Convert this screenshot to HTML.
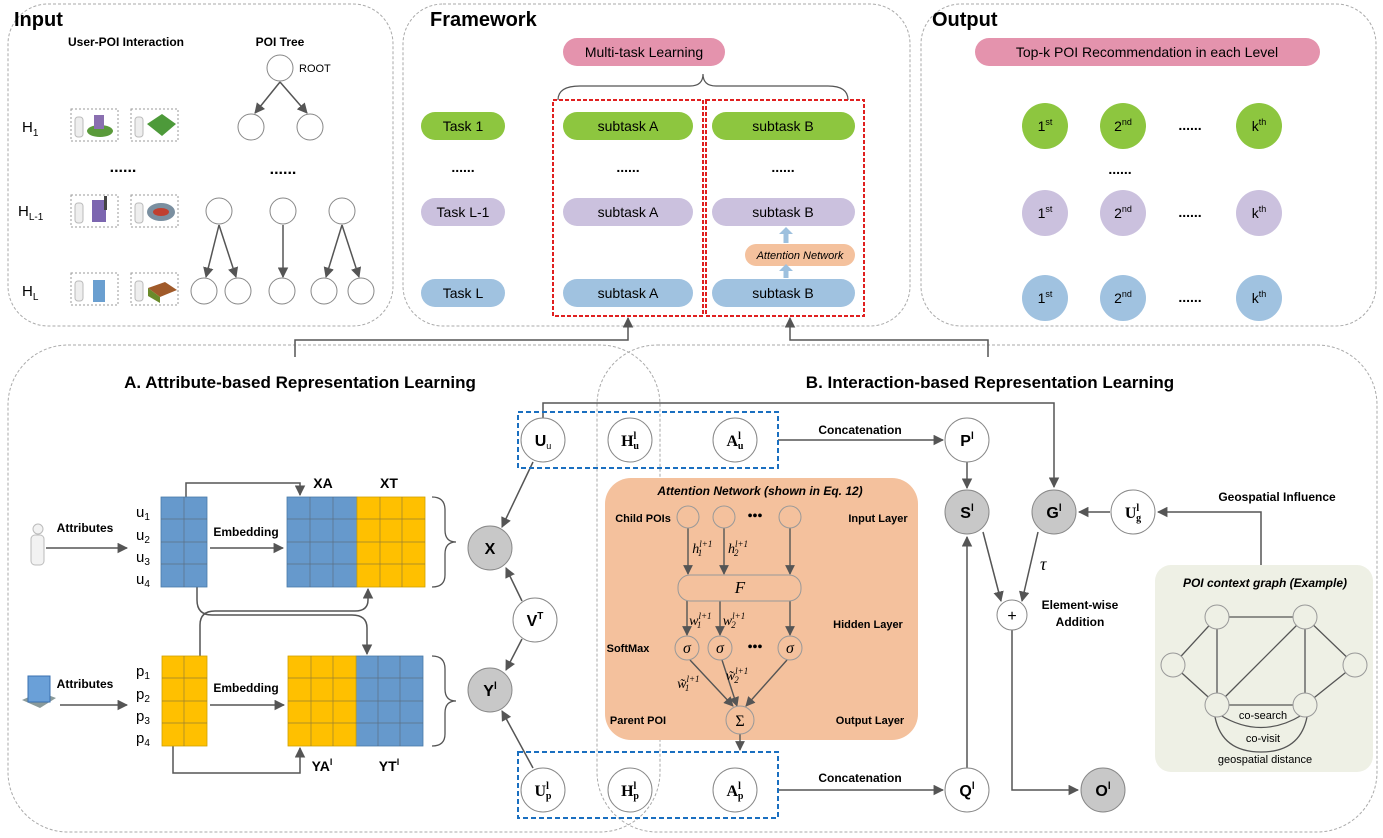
<!DOCTYPE html>
<html><head><meta charset="utf-8"><style>
body{margin:0;background:#fff}
svg{display:block;font-family:"Liberation Sans",sans-serif}
.b{font-weight:bold}
</style></head><body>
<svg width="1383" height="838" viewBox="0 0 1383 838" xmlns="http://www.w3.org/2000/svg">
<defs>
<marker id="ar" viewBox="0 0 10 10" refX="9" refY="5" markerWidth="7" markerHeight="7" orient="auto-start-reverse"><path d="M0,0 L10,5 L0,10 z" fill="#555"/></marker>
<marker id="ab" viewBox="0 0 10 10" refX="9" refY="5" markerWidth="4" markerHeight="4" orient="auto"><path d="M0,0 L10,5 L0,10 z" fill="#9dc0de"/></marker>
</defs>
<g fill="none" stroke="#aaa" stroke-dasharray="3,2" stroke-width="1">
<rect x="8" y="4" width="385" height="322" rx="40"/>
<rect x="403" y="4" width="507" height="322" rx="40"/>
<rect x="921" y="4" width="455" height="322" rx="40"/>
<rect x="8" y="345" width="652" height="487" rx="60"/>
<rect x="597" y="345" width="780" height="487" rx="60"/>
</g>
<!-- Input panel -->
<text x="14" y="26" font-size="20" class="b">Input</text>
<text x="126" y="46" font-size="12" class="b" text-anchor="middle">User-POI Interaction</text>
<text x="280" y="46" font-size="12" class="b" text-anchor="middle">POI Tree</text>
<text x="299" y="72" font-size="11">ROOT</text>
<text x="22" y="132" font-size="15">H<tspan font-size="10" dy="4">1</tspan></text>
<text x="18" y="216" font-size="15">H<tspan font-size="10" dy="4">L-1</tspan></text>
<text x="22" y="296" font-size="15">H<tspan font-size="10" dy="4">L</tspan></text>
<text x="123" y="172" font-size="16" text-anchor="middle" class="b">......</text>
<text x="283" y="174" font-size="16" text-anchor="middle" class="b">......</text>
<g fill="none" stroke="#999" stroke-dasharray="2,2">
<rect x="71" y="109" width="47" height="32"/><rect x="131" y="109" width="47" height="32"/>
<rect x="71" y="195" width="47" height="32"/><rect x="131" y="195" width="47" height="32"/>
<rect x="71" y="273" width="47" height="32"/><rect x="131" y="273" width="47" height="32"/>
</g>
<g>
<g fill="#eee" stroke="#bbb"><rect x="75" y="117" width="8" height="20" rx="3"/><rect x="135" y="117" width="8" height="20" rx="3"/><rect x="75" y="203" width="8" height="20" rx="3"/><rect x="135" y="203" width="8" height="20" rx="3"/><rect x="75" y="281" width="8" height="20" rx="3"/><rect x="135" y="281" width="8" height="20" rx="3"/></g>
<ellipse cx="100" cy="131" rx="13" ry="6" fill="#5a9a3a"/><rect x="94" y="115" width="10" height="14" fill="#8a6fb0"/>
<path d="M147,124 L162,114 L176,124 L162,136z" fill="#4d9a3a"/>
<rect x="92" y="200" width="14" height="22" fill="#7c66b0"/><rect x="104" y="196" width="3" height="14" fill="#444"/>
<ellipse cx="161" cy="212" rx="14" ry="9" fill="#7a8fa0"/><ellipse cx="161" cy="212" rx="8" ry="4" fill="#c04030"/>
<rect x="93" y="280" width="12" height="22" fill="#6a9fd0"/>
<path d="M148,288 L165,282 L177,290 L160,297z" fill="#a05a2a"/><path d="M148,288 L160,297 L160,303 L148,296z" fill="#6a8a2a"/>
</g>
<g fill="#fff" stroke="#888">
<circle cx="280" cy="68" r="13"/><circle cx="251" cy="127" r="13"/><circle cx="310" cy="127" r="13"/>
<circle cx="219" cy="211" r="13"/><circle cx="283" cy="211" r="13"/><circle cx="342" cy="211" r="13"/>
<circle cx="204" cy="291" r="13"/><circle cx="238" cy="291" r="13"/><circle cx="282" cy="291" r="13"/><circle cx="324" cy="291" r="13"/><circle cx="361" cy="291" r="13"/>
</g>
<g stroke="#555" stroke-width="1.5" marker-end="url(#ar)">
<line x1="280" y1="82" x2="255" y2="113"/><line x1="280" y1="82" x2="307" y2="113"/>
<line x1="219" y1="225" x2="206" y2="277"/><line x1="219" y1="225" x2="236" y2="277"/>
<line x1="283" y1="225" x2="283" y2="277"/>
<line x1="342" y1="225" x2="326" y2="277"/><line x1="342" y1="225" x2="359" y2="277"/>
</g>
<!-- Framework -->
<text x="430" y="26" font-size="20" class="b">Framework</text>
<rect x="563" y="38" width="162" height="28" rx="14" fill="#e493ad"/>
<text x="644" y="57" font-size="14" text-anchor="middle">Multi-task Learning</text>
<path d="M558,100 Q558,86 580,86 L690,86 Q703,86 703,74 Q703,86 716,86 L828,86 Q848,86 848,100" fill="none" stroke="#555" stroke-width="1.2"/>
<g font-size="14" text-anchor="middle">
<rect x="421" y="112" width="84" height="28" rx="14" fill="#8dc63f"/><text x="463" y="131">Task 1</text>
<rect x="563" y="112" width="130" height="28" rx="14" fill="#8dc63f"/><text x="628" y="131">subtask A</text>
<rect x="712" y="112" width="143" height="28" rx="14" fill="#8dc63f"/><text x="783" y="131">subtask B</text>
<rect x="421" y="198" width="84" height="28" rx="14" fill="#cbc1de"/><text x="463" y="217">Task L-1</text>
<rect x="563" y="198" width="130" height="28" rx="14" fill="#cbc1de"/><text x="628" y="217">subtask A</text>
<rect x="712" y="198" width="143" height="28" rx="14" fill="#cbc1de"/><text x="783" y="217">subtask B</text>
<rect x="421" y="279" width="84" height="28" rx="14" fill="#a0c2e0"/><text x="463" y="298">Task L</text>
<rect x="563" y="279" width="130" height="28" rx="14" fill="#a0c2e0"/><text x="628" y="298">subtask A</text>
<rect x="712" y="279" width="143" height="28" rx="14" fill="#a0c2e0"/><text x="783" y="298">subtask B</text>
<text x="463" y="172" class="b">......</text><text x="628" y="172" class="b">......</text><text x="783" y="172" class="b">......</text>
</g>
<rect x="745" y="244" width="110" height="22" rx="11" fill="#f4c19d"/>
<text x="800" y="259" font-size="11" font-style="italic" text-anchor="middle">Attention Network</text>
<g stroke="#9dc0de" stroke-width="5"><line x1="786" y1="278" x2="786" y2="269"/><line x1="786" y1="243" x2="786" y2="231"/></g>
<path d="M779,271 L786,264 L793,271z M779,234 L786,227 L793,234z" fill="#9dc0de"/>
<g fill="none" stroke="#e02020" stroke-width="2" stroke-dasharray="4,2">
<rect x="553" y="100" width="150" height="216"/><rect x="706" y="100" width="158" height="216"/>
</g>
<!-- Output -->
<text x="932" y="26" font-size="20" class="b">Output</text>
<rect x="975" y="38" width="345" height="28" rx="14" fill="#e493ad"/>
<text x="1147" y="57" font-size="14" text-anchor="middle">Top-k POI Recommendation in each Level</text>
<g font-size="14" text-anchor="middle">
<circle cx="1045" cy="126" r="23" fill="#8dc63f"/><circle cx="1123" cy="126" r="23" fill="#8dc63f"/><circle cx="1259" cy="126" r="23" fill="#8dc63f"/>
<circle cx="1045" cy="213" r="23" fill="#cbc1de"/><circle cx="1123" cy="213" r="23" fill="#cbc1de"/><circle cx="1259" cy="213" r="23" fill="#cbc1de"/>
<circle cx="1045" cy="298" r="23" fill="#a0c2e0"/><circle cx="1123" cy="298" r="23" fill="#a0c2e0"/><circle cx="1259" cy="298" r="23" fill="#a0c2e0"/>
<text x="1045" y="131">1<tspan font-size="9" dy="-6">st</tspan></text><text x="1123" y="131">2<tspan font-size="9" dy="-6">nd</tspan></text><text x="1259" y="131">k<tspan font-size="9" dy="-6">th</tspan></text>
<text x="1045" y="218">1<tspan font-size="9" dy="-6">st</tspan></text><text x="1123" y="218">2<tspan font-size="9" dy="-6">nd</tspan></text><text x="1259" y="218">k<tspan font-size="9" dy="-6">th</tspan></text>
<text x="1045" y="303">1<tspan font-size="9" dy="-6">st</tspan></text><text x="1123" y="303">2<tspan font-size="9" dy="-6">nd</tspan></text><text x="1259" y="303">k<tspan font-size="9" dy="-6">th</tspan></text>
<text x="1190" y="130" class="b">......</text><text x="1190" y="217" class="b">......</text><text x="1190" y="302" class="b">......</text><text x="1120" y="174" class="b">......</text>
</g>
<!-- connectors top -->
<g stroke="#555" stroke-width="1.5" fill="none" marker-end="url(#ar)">
<polyline points="295,357 295,340 628,340 628,318"/>
<polyline points="988,357 988,340 790,340 790,318"/>
</g>
<!-- A panel -->
<text x="300" y="388" font-size="17" class="b" text-anchor="middle">A. Attribute-based Representation Learning</text>
<text x="990" y="388" font-size="17" class="b" text-anchor="middle">B. Interaction-based Representation Learning</text>
<g fill="#f2f2f2" stroke="#bbb"><circle cx="38" cy="529" r="5"/><rect x="31" y="535" width="13" height="30" rx="4"/></g>
<path d="M22,700 L40,708 L56,698 L40,692z" fill="#8a9a9a"/><rect x="28" y="676" width="22" height="26" fill="#6aa0d8" stroke="#3a70b0"/>
<text x="85" y="532" font-size="12" class="b" text-anchor="middle">Attributes</text>
<text x="85" y="688" font-size="12" class="b" text-anchor="middle">Attributes</text>
<text x="246" y="536" font-size="12" class="b" text-anchor="middle">Embedding</text>
<text x="246" y="692" font-size="12" class="b" text-anchor="middle">Embedding</text>
<g font-size="15"><text x="136" y="517">u<tspan font-size="10" dy="3">1</tspan></text><text x="136" y="540">u<tspan font-size="10" dy="3">2</tspan></text><text x="136" y="562">u<tspan font-size="10" dy="3">3</tspan></text><text x="136" y="584">u<tspan font-size="10" dy="3">4</tspan></text>
<text x="136" y="676">p<tspan font-size="10" dy="3">1</tspan></text><text x="136" y="699">p<tspan font-size="10" dy="3">2</tspan></text><text x="136" y="721">p<tspan font-size="10" dy="3">3</tspan></text><text x="136" y="743">p<tspan font-size="10" dy="3">4</tspan></text></g>
<g stroke="#555" stroke-width="1.5" fill="none" marker-end="url(#ar)">
<line x1="46" y1="548" x2="127" y2="548"/><line x1="60" y1="705" x2="127" y2="705"/>
<line x1="210" y1="548" x2="283" y2="548"/><line x1="210" y1="705" x2="284" y2="705"/>
<polyline points="186,497 186,483 300,483 300,495"/>
<path d="M197,587 L197,600 Q197,615 212,615 L352,615 Q367,615 367,628 L367,654"/>
<path d="M200,656 L200,625 Q200,611 215,611 L355,611 Q368,611 368,600 L368,589"/>
<polyline points="173,746 173,773 300,773 300,748"/>
</g>
<!-- matrices -->
<g stroke="#4a7aa8" stroke-width="0.8">
<rect x="161" y="497" width="46" height="90" fill="#6699cc"/>
<rect x="287" y="497" width="70" height="90" fill="#6699cc"/>
<rect x="356" y="656" width="67" height="90" fill="#6699cc"/>
</g>
<g stroke="#d0a000" stroke-width="0.8">
<rect x="357" y="497" width="68" height="90" fill="#ffc000"/>
<rect x="162" y="656" width="45" height="90" fill="#ffc000"/>
<rect x="288" y="656" width="68" height="90" fill="#ffc000"/>
</g>
<g stroke="#555" stroke-width="0.7" opacity="0.6">
<line x1="184" y1="497" x2="184" y2="587"/><line x1="161" y1="519" x2="207" y2="519"/><line x1="161" y1="542" x2="207" y2="542"/><line x1="161" y1="564" x2="207" y2="564"/>
<line x1="184" y1="656" x2="184" y2="746"/><line x1="162" y1="678" x2="207" y2="678"/><line x1="162" y1="701" x2="207" y2="701"/><line x1="162" y1="723" x2="207" y2="723"/>
<line x1="310" y1="497" x2="310" y2="587"/><line x1="333" y1="497" x2="333" y2="587"/><line x1="380" y1="497" x2="380" y2="587"/><line x1="402" y1="497" x2="402" y2="587"/>
<line x1="287" y1="519" x2="425" y2="519"/><line x1="287" y1="542" x2="425" y2="542"/><line x1="287" y1="564" x2="425" y2="564"/>
<line x1="311" y1="656" x2="311" y2="746"/><line x1="333" y1="656" x2="333" y2="746"/><line x1="378" y1="656" x2="378" y2="746"/><line x1="400" y1="656" x2="400" y2="746"/>
<line x1="288" y1="678" x2="423" y2="678"/><line x1="288" y1="701" x2="423" y2="701"/><line x1="288" y1="723" x2="423" y2="723"/>
</g>
<g font-size="14" class="b" text-anchor="middle"><text x="323" y="488">XA</text><text x="389" y="488">XT</text>
<text x="322" y="771">YA<tspan font-size="9" dy="-6">l</tspan></text><text x="389" y="771">YT<tspan font-size="9" dy="-6">l</tspan></text></g>
<g fill="none" stroke="#555" stroke-width="1.3">
<path d="M432,497 Q445,497 445,510 L445,530 Q445,542 456,542 Q445,542 445,554 L445,575 Q445,587 432,587"/>
<path d="M432,656 Q445,656 445,669 L445,689 Q445,701 456,701 Q445,701 445,713 L445,734 Q445,746 432,746"/>
</g>
<!-- B: circles and lines -->
<g stroke="#555" stroke-width="1.5" fill="none" marker-end="url(#ar)">
<polyline points="543,418 543,403 1054,403 1054,487"/>
<line x1="533" y1="462" x2="502" y2="527"/>
<line x1="522" y1="601" x2="506" y2="568"/>
<line x1="522" y1="639" x2="506" y2="670"/>
<line x1="533" y1="768" x2="502" y2="711"/>
<line x1="778" y1="440" x2="943" y2="440"/>
<line x1="778" y1="790" x2="943" y2="790"/>
<line x1="967" y1="462" x2="967" y2="488"/>
<line x1="967" y1="768" x2="967" y2="537"/>
<polyline points="1261,565 1261,512 1158,512"/>
<line x1="1110" y1="512" x2="1079" y2="512"/>
<line x1="983" y1="532" x2="1001" y2="601"/>
<line x1="1038" y1="532" x2="1022" y2="601"/>
<polyline points="1012,630 1012,790 1078,790"/>
</g>
<g stroke="#888" fill="#fff">
<circle cx="490" cy="548" r="22" fill="#c8c8c8"/><circle cx="535" cy="620" r="22"/><circle cx="490" cy="690" r="22" fill="#c8c8c8"/>
<circle cx="543" cy="440" r="22"/><circle cx="630" cy="440" r="22"/><circle cx="735" cy="440" r="22"/>
<circle cx="543" cy="790" r="22"/><circle cx="630" cy="790" r="22"/><circle cx="735" cy="790" r="22"/>
<circle cx="967" cy="440" r="22"/><circle cx="967" cy="512" r="22" fill="#c8c8c8"/><circle cx="1054" cy="512" r="22" fill="#c8c8c8"/><circle cx="1133" cy="512" r="22"/>
<circle cx="1012" cy="615" r="15"/><circle cx="967" cy="790" r="22"/><circle cx="1103" cy="790" r="22" fill="#c8c8c8"/>
</g>
<g font-size="16" class="b" text-anchor="middle">
<text x="490" y="554">X</text><text x="535" y="626">V<tspan font-size="10" dy="-7">T</tspan></text><text x="490" y="696">Y<tspan font-size="10" dy="-7">l</tspan></text>
<text x="543" y="446">U<tspan font-size="9" dy="3" font-weight="normal">u</tspan></text>
<text x="630" y="446" font-family="Liberation Serif">H<tspan font-size="10" dy="-7">l</tspan><tspan font-size="10" dy="10" dx="-3">u</tspan></text>
<text x="735" y="446" font-family="Liberation Serif">A<tspan font-size="10" dy="-7">l</tspan><tspan font-size="10" dy="10" dx="-3">u</tspan></text>
<text x="543" y="796" font-family="Liberation Serif">U<tspan font-size="10" dy="-7">l</tspan><tspan font-size="10" dy="10" dx="-3">p</tspan></text>
<text x="630" y="796" font-family="Liberation Serif">H<tspan font-size="10" dy="-7">l</tspan><tspan font-size="10" dy="10" dx="-3">p</tspan></text>
<text x="735" y="796" font-family="Liberation Serif">A<tspan font-size="10" dy="-7">l</tspan><tspan font-size="10" dy="10" dx="-3">p</tspan></text>
<text x="967" y="446">P<tspan font-size="10" dy="-7">l</tspan></text><text x="967" y="518">S<tspan font-size="10" dy="-7">l</tspan></text>
<text x="1054" y="518">G<tspan font-size="10" dy="-7">l</tspan></text>
<text x="1133" y="518" font-family="Liberation Serif">U<tspan font-size="10" dy="-7">l</tspan><tspan font-size="10" dy="10" dx="-3">g</tspan></text>
<text x="967" y="796">Q<tspan font-size="10" dy="-7">l</tspan></text><text x="1103" y="796">O<tspan font-size="10" dy="-7">l</tspan></text>
<text x="1012" y="621" font-weight="normal">+</text>
</g>
<g fill="none" stroke="#1a6fc0" stroke-width="2" stroke-dasharray="5,3">
<rect x="518" y="412" width="260" height="56"/><rect x="518" y="752" width="260" height="66"/>
</g>
<g font-size="12" class="b" text-anchor="middle">
<text x="860" y="434">Concatenation</text><text x="860" y="782">Concatenation</text>
<text x="1277" y="501">Geospatial Influence</text>
<text x="1080" y="609">Element-wise</text><text x="1080" y="626">Addition</text>
</g>
<text x="1040" y="570" font-size="18" font-style="italic" font-family="Liberation Serif">τ</text>
<!-- Attention network -->
<rect x="605" y="478" width="313" height="262" rx="26" fill="#f4c19d"/>
<text x="760" y="495" font-size="12" font-style="italic" class="b" text-anchor="middle">Attention Network (shown in Eq. 12)</text>
<g font-size="11" class="b" text-anchor="middle">
<text x="643" y="522">Child POIs</text><text x="878" y="522">Input Layer</text>
<text x="868" y="628">Hidden Layer</text><text x="628" y="652">SoftMax</text>
<text x="638" y="724">Parent POI</text><text x="870" y="724">Output Layer</text>
</g>
<g stroke="#555" stroke-width="1.4" fill="none" marker-end="url(#ar)">
<line x1="688" y1="528" x2="688" y2="574"/><line x1="724" y1="528" x2="724" y2="574"/><line x1="790" y1="528" x2="790" y2="574"/>
<line x1="687" y1="601" x2="687" y2="635"/><line x1="720" y1="601" x2="720" y2="635"/><line x1="790" y1="601" x2="790" y2="635"/>
<line x1="690" y1="660" x2="733" y2="706"/><line x1="722" y1="660" x2="737" y2="706"/><line x1="787" y1="660" x2="746" y2="706"/>
<line x1="740" y1="734" x2="740" y2="750"/>
</g>
<g fill="#f4c19d" stroke="#999">
<circle cx="688" cy="517" r="11"/><circle cx="724" cy="517" r="11"/><circle cx="790" cy="517" r="11"/>
<rect x="678" y="575" width="123" height="26" rx="12"/>
<circle cx="687" cy="648" r="12"/><circle cx="720" cy="648" r="12"/><circle cx="790" cy="648" r="12"/>
<circle cx="740" cy="720" r="14"/>
</g>
<g font-family="Liberation Serif" font-style="italic" font-size="14" text-anchor="middle">
<text x="755" y="520" font-style="normal" class="b">•••</text><text x="755" y="651" font-style="normal" class="b">•••</text>
<text x="740" y="593" font-size="17">F</text>
<text x="687" y="653" font-size="16">σ</text><text x="720" y="653" font-size="16">σ</text><text x="790" y="653" font-size="16">σ</text>
<text x="740" y="726" font-style="normal" font-size="16">Σ</text>
<text x="702" y="553">h<tspan font-size="9" dy="-6">l+1</tspan><tspan font-size="9" dy="9" dx="-14">1</tspan></text>
<text x="738" y="553">h<tspan font-size="9" dy="-6">l+1</tspan><tspan font-size="9" dy="9" dx="-14">2</tspan></text>
<text x="700" y="625">w<tspan font-size="9" dy="-6">l+1</tspan><tspan font-size="9" dy="9" dx="-14">1</tspan></text>
<text x="734" y="625">w<tspan font-size="9" dy="-6">l+1</tspan><tspan font-size="9" dy="9" dx="-14">2</tspan></text>
<text x="688" y="688">w̃<tspan font-size="9" dy="-6">l+1</tspan><tspan font-size="9" dy="9" dx="-14">1</tspan></text>
<text x="737" y="680">w̃<tspan font-size="9" dy="-6">l+1</tspan><tspan font-size="9" dy="9" dx="-14">2</tspan></text>
</g>
<!-- context graph -->
<rect x="1155" y="565" width="218" height="207" rx="16" fill="#eef0e5"/>
<text x="1265" y="587" font-size="12" font-style="italic" class="b" text-anchor="middle">POI context graph (Example)</text>
<g stroke="#555" stroke-width="1.3" fill="none">
<line x1="1217" y1="617" x2="1305" y2="617"/><line x1="1217" y1="617" x2="1173" y2="665"/><line x1="1217" y1="617" x2="1217" y2="705"/>
<line x1="1305" y1="617" x2="1217" y2="705"/><line x1="1305" y1="617" x2="1305" y2="705"/><line x1="1305" y1="617" x2="1355" y2="665"/>
<line x1="1173" y1="665" x2="1217" y2="705"/><line x1="1355" y1="665" x2="1305" y2="705"/><line x1="1217" y1="705" x2="1305" y2="705"/>
<path d="M1220,715 Q1261,740 1302,715"/><path d="M1215,717 Q1222,752 1261,752 Q1300,752 1307,717"/>
</g>
<g fill="#eef0e5" stroke="#999">
<circle cx="1217" cy="617" r="12"/><circle cx="1305" cy="617" r="12"/><circle cx="1173" cy="665" r="12"/><circle cx="1355" cy="665" r="12"/><circle cx="1217" cy="705" r="12"/><circle cx="1305" cy="705" r="12"/>
</g>
<g font-size="11" text-anchor="middle"><text x="1263" y="719">co-search</text><text x="1263" y="742">co-visit</text><text x="1265" y="763">geospatial distance</text></g>
</svg>
</body></html>
